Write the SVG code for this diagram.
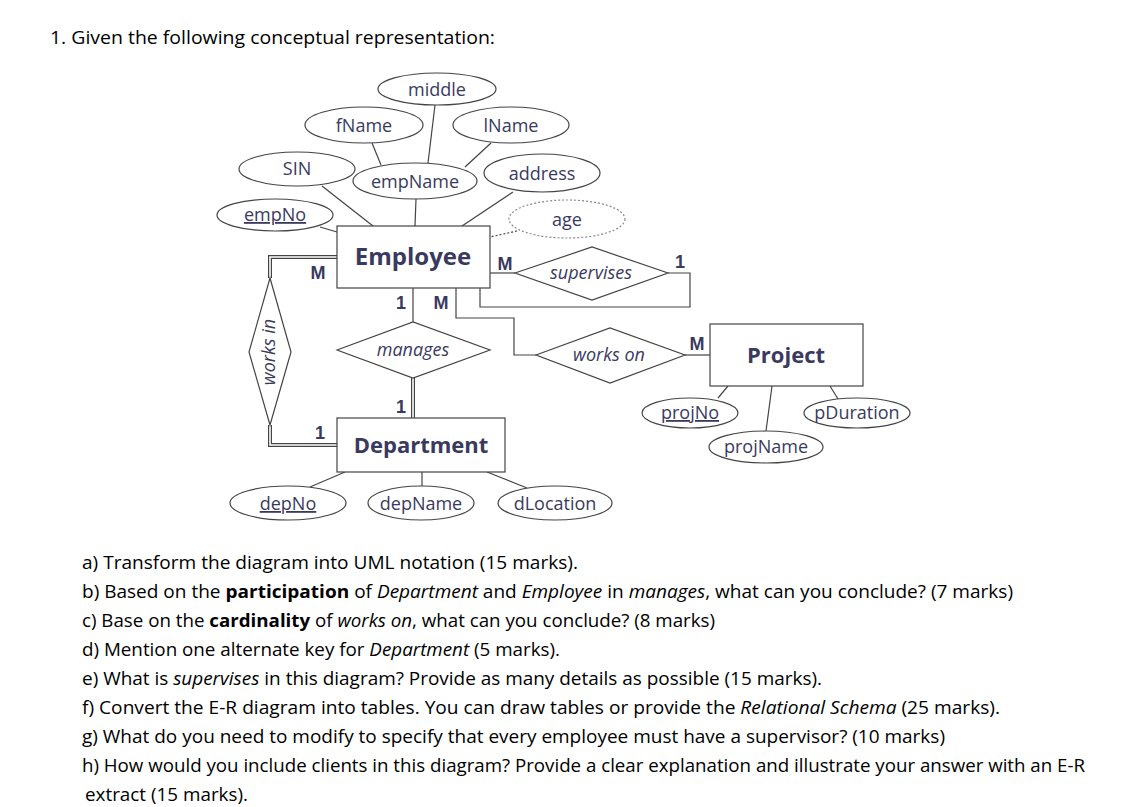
<svg xmlns="http://www.w3.org/2000/svg" width="1144" height="807" viewBox="0 0 1144 807">
<style>
.t{font-family:"Open Sans","Liberation Sans",sans-serif;fill:#000}
.a{font-family:"Open Sans","Liberation Sans",sans-serif;font-size:18px;fill:#3a3a5e;text-anchor:middle}
.e{font-family:"Open Sans","Liberation Sans",sans-serif;font-weight:bold;fill:#3a3a5e;text-anchor:middle}
.r{font-family:"Open Sans","Liberation Sans",sans-serif;font-style:italic;font-size:18px;fill:#3a3a5e;text-anchor:middle}
.c{font-family:"Liberation Sans",sans-serif;font-weight:bold;font-size:18px;fill:#3a3a5e;text-anchor:middle}
ellipse,rect,polygon{fill:#fff;stroke:#444;stroke-width:1.2}
line,polyline{stroke:#444;stroke-width:1.2;fill:none}
.d{stroke-dasharray:2 2}
.dbl{stroke:#444;stroke-width:4;fill:none}
.dbw{stroke:#fff;stroke-width:1.6;fill:none}
</style>
<text class="t" x="50" y="44" font-size="19" textLength="445" lengthAdjust="spacingAndGlyphs">1. Given the following conceptual representation:</text>
<g id="connectors">
<line x1="435" y1="105" x2="428" y2="163"/>
<line x1="372" y1="143" x2="381" y2="165"/>
<line x1="491" y1="143" x2="465" y2="167"/>
<line x1="322" y1="186" x2="373" y2="226"/>
<line x1="416" y1="199" x2="415" y2="226"/>
<line x1="513" y1="192" x2="462" y2="226"/>
<line x1="320" y1="227" x2="337" y2="232"/>
<line class="d" x1="517" y1="231" x2="490" y2="237"/>
<line x1="490" y1="273" x2="515" y2="273"/>
<polyline points="668,273 690,273 690,307 480,307 480,288"/>
<line x1="413" y1="288" x2="413" y2="322"/>
<polyline points="456,288 456,318 514,318 514,355 536,355"/>
<line x1="685" y1="355" x2="710" y2="355"/>
<path class="dbl" d="M413,378 V418"/><path class="dbw" d="M413,378 V418"/>
<path class="dbl" d="M337,257 H270 V278"/><path class="dbw" d="M337,257 H270 V278"/>
<path class="dbl" d="M270,425 V445 H337"/><path class="dbw" d="M270,425 V445 H337"/>
<line x1="718" y1="398" x2="728" y2="386"/>
<line x1="766" y1="431" x2="772" y2="386"/>
<line x1="838" y1="399" x2="830" y2="386"/>
<line x1="310" y1="487" x2="345" y2="472"/>
<line x1="422" y1="486" x2="422" y2="472"/>
<line x1="527" y1="488" x2="487" y2="472"/>
</g>
<g id="middle"><ellipse cx="437" cy="89" rx="59" ry="16"/><text class="a" x="437" y="96">middle</text></g>
<g id="fName"><ellipse cx="364" cy="125" rx="59" ry="18"/><text class="a" x="364" y="132">fName</text></g>
<g id="lName"><ellipse cx="511" cy="125" rx="58" ry="18"/><text class="a" x="511" y="132">lName</text></g>
<g id="SIN"><ellipse cx="297" cy="169" rx="58" ry="17"/><text class="a" x="297" y="175">SIN</text></g>
<g id="empName"><ellipse cx="415" cy="181" rx="62" ry="18"/><text class="a" x="415" y="188">empName</text></g>
<g id="address"><ellipse cx="542" cy="173" rx="58" ry="19"/><text class="a" x="542" y="180">address</text></g>
<g id="empNo"><ellipse cx="275" cy="215" rx="58" ry="16"/><text class="a" x="275" y="221" text-decoration="underline">empNo</text></g>
<g id="age"><ellipse class="d" cx="567" cy="219" rx="58" ry="19" style="stroke:#888"/><text class="a" x="567" y="226">age</text></g>
<g id="Employee"><rect x="337" y="226" width="153" height="62"/><text class="e" x="413" y="265" font-size="24">Employee</text></g>
<g id="supervises"><polygon points="515,273 592,247 668,273 592,300"/><text class="r" x="591" y="279">supervises</text></g>
<g id="manages"><polygon points="337,350 413,322 490,350 413,378"/><text class="r" x="413" y="356">manages</text></g>
<g id="workson"><polygon points="536,355 610,328 685,355 610,383"/><text class="r" x="609" y="361">works on</text></g>
<g id="worksin"><polygon points="270,278 291,352 270,425 249,352"/><text class="r" x="0" y="0" transform="translate(275,352) rotate(-90)">works in</text></g>
<g id="Project"><rect x="710" y="324" width="153" height="62"/><text class="e" x="786" y="363" font-size="22">Project</text></g>
<g id="projNo"><ellipse cx="690" cy="413" rx="48" ry="15"/><text class="a" x="690" y="419" text-decoration="underline">projNo</text></g>
<g id="pDuration"><ellipse cx="857" cy="413" rx="53" ry="15"/><text class="a" x="857" y="419">pDuration</text></g>
<g id="projName"><ellipse cx="766" cy="447" rx="57" ry="16"/><text class="a" x="766" y="453">projName</text></g>
<g id="Department"><rect x="337" y="418" width="168" height="54"/><text class="e" x="421" y="453" font-size="22">Department</text></g>
<g id="depNo"><ellipse cx="288" cy="503" rx="58" ry="17"/><text class="a" x="288" y="510" text-decoration="underline">depNo</text></g>
<g id="depName"><ellipse cx="421" cy="503" rx="53" ry="17"/><text class="a" x="421" y="510">depName</text></g>
<g id="dLocation"><ellipse cx="555" cy="503" rx="57" ry="17"/><text class="a" x="555" y="510">dLocation</text></g>
<g id="cardinalities">
<text class="c" x="505" y="270">M</text>
<text class="c" x="680" y="268">1</text>
<text class="c" x="318" y="279">M</text>
<text class="c" x="401" y="309">1</text>
<text class="c" x="441" y="309">M</text>
<text class="c" x="697" y="350">M</text>
<text class="c" x="401" y="413">1</text>
<text class="c" x="320" y="439">1</text>
</g>
<g class="t" font-size="18">
<text x="82" y="569" textLength="496" lengthAdjust="spacingAndGlyphs">a) Transform the diagram into UML notation (15 marks).</text>
<text x="82" y="598" textLength="931" lengthAdjust="spacingAndGlyphs">b) Based on the <tspan font-weight="bold">participation</tspan> of <tspan font-style="italic">Department</tspan> and <tspan font-style="italic">Employee</tspan> in <tspan font-style="italic">manages</tspan>, what can you conclude? (7 marks)</text>
<text x="82" y="627" textLength="633" lengthAdjust="spacingAndGlyphs">c) Base on the <tspan font-weight="bold">cardinality</tspan> of <tspan font-style="italic">works on</tspan>, what can you conclude? (8 marks)</text>
<text x="82" y="656" textLength="478" lengthAdjust="spacingAndGlyphs">d) Mention one alternate key for <tspan font-style="italic">Department</tspan> (5 marks).</text>
<text x="82" y="685" textLength="740" lengthAdjust="spacingAndGlyphs">e) What is <tspan font-style="italic">supervises</tspan> in this diagram? Provide as many details as possible (15 marks).</text>
<text x="82" y="714" textLength="918" lengthAdjust="spacingAndGlyphs">f) Convert the E-R diagram into tables. You can draw tables or provide the <tspan font-style="italic">Relational Schema</tspan> (25 marks).</text>
<text x="82" y="743" textLength="863" lengthAdjust="spacingAndGlyphs">g) What do you need to modify to specify that every employee must have a supervisor? (10 marks)</text>
<text x="82" y="772" textLength="1003" lengthAdjust="spacingAndGlyphs">h) How would you include clients in this diagram? Provide a clear explanation and illustrate your answer with an E-R</text>
<text x="85" y="801" textLength="163" lengthAdjust="spacingAndGlyphs">extract (15 marks).</text>
</g>
</svg>
